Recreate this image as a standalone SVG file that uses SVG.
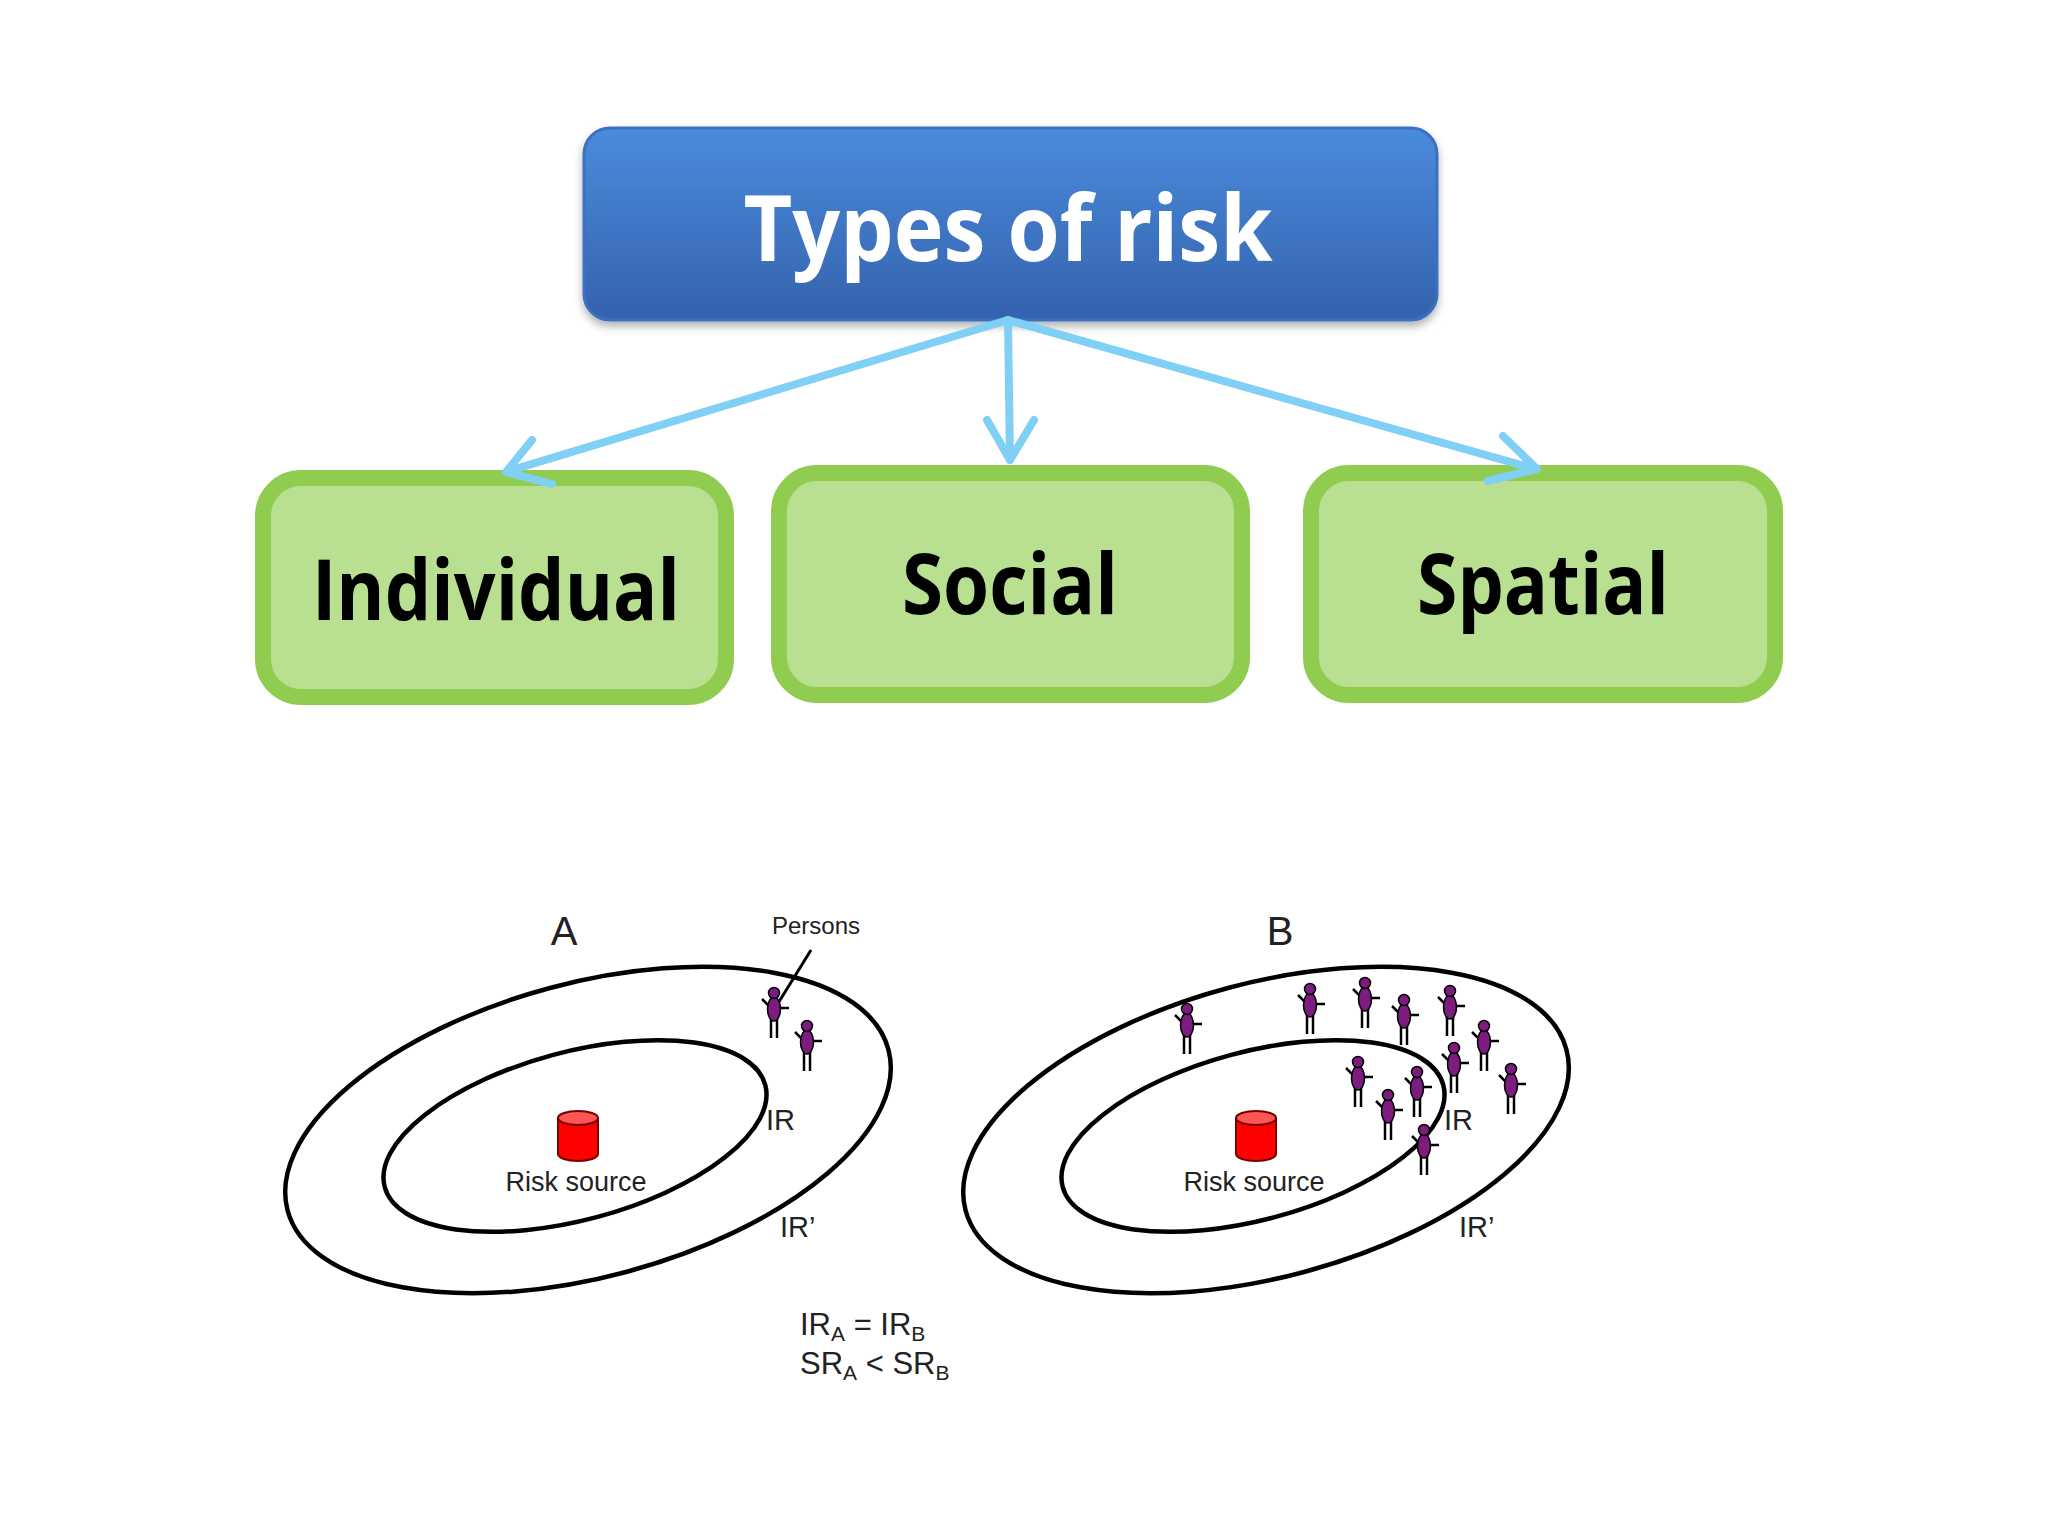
<svg xmlns="http://www.w3.org/2000/svg" width="2048" height="1536" viewBox="0 0 2048 1536">
<defs>
<linearGradient id="blue" x1="0" y1="0" x2="0" y2="1"><stop offset="0" stop-color="#4a8bdc"/><stop offset="1" stop-color="#3462ad"/></linearGradient>
<filter id="sh" x="-10%" y="-10%" width="120%" height="130%"><feDropShadow dx="0" dy="5" stdDeviation="4" flood-color="#000" flood-opacity="0.3"/></filter>
<g id="person">
<line x1="-3" y1="6" x2="-3" y2="26" stroke="#000" stroke-width="2.5"/>
<line x1="3" y1="6" x2="3" y2="26" stroke="#000" stroke-width="2.5"/>
<line x1="-5" y1="-6" x2="-12" y2="-13" stroke="#000" stroke-width="2.5"/>
<line x1="5" y1="-4" x2="15" y2="-4" stroke="#000" stroke-width="2.5"/>
<ellipse cx="0" cy="-3" rx="6.5" ry="12" fill="#7b1c7e" stroke="#000" stroke-width="1.5"/>
<circle cx="0" cy="-19" r="5.5" fill="#7b1c7e" stroke="#000" stroke-width="1.5"/>
</g>
</defs>
<style>
.g{fill:#b8e090;stroke:#8fcc50;stroke-width:16}
.gt{font-family:"Open Sans","Liberation Sans",sans-serif;font-weight:bold;font-size:84px;fill:#000;text-anchor:middle}
.c{stroke:#80d0f6;stroke-width:8;fill:none;stroke-linecap:round;stroke-linejoin:round}
.e{fill:none;stroke:#000;stroke-width:4.5}
.s{font-family:"Liberation Sans",Arial,sans-serif;fill:#222}
</style>
<rect width="2048" height="1536" fill="#fff"/>
<g id="types">
<rect x="584" y="128" width="853" height="192" rx="26" fill="url(#blue)" stroke="#3a70c2" stroke-width="3" filter="url(#sh)"/>
<text x="1008" y="261" font-family="Open Sans, Liberation Sans, sans-serif" font-weight="bold" font-size="92" fill="#fff" text-anchor="middle" textLength="529" lengthAdjust="spacingAndGlyphs">Types of risk</text>
</g>
<g id="individual"><rect class="g" x="263" y="478" width="463" height="219" rx="38"/><text class="gt" x="496" y="620" textLength="368" lengthAdjust="spacingAndGlyphs">Individual</text></g>
<g id="social"><rect class="g" x="779" y="473" width="463" height="222" rx="38"/><text class="gt" x="1010" y="614" textLength="216" lengthAdjust="spacingAndGlyphs">Social</text></g>
<g id="spatial"><rect class="g" x="1311" y="473" width="464" height="222" rx="38"/><text class="gt" x="1543" y="614" textLength="252" lengthAdjust="spacingAndGlyphs">Spatial</text></g>
<g id="connectors">
<path class="c" d="M1008 320 L509 471 M532 440 L506 472 L552 484"/>
<path class="c" d="M1008 320 L1010 460 M987 420 L1010 460 L1034 420"/>
<path class="c" d="M1008 320 L1535 469 M1503 436 L1537 469 L1488 481"/>
</g>
<g id="figA">
<ellipse class="e" cx="588" cy="1130" rx="311" ry="147" transform="rotate(-15 588 1130)"/>
<ellipse class="e" cx="575" cy="1136" rx="197" ry="84" transform="rotate(-15 575 1136)"/>
<path d="M558 1118 v36 a20 7 0 0 0 40 0 v-36 z" fill="#f00" stroke="#700" stroke-width="2"/>
<ellipse cx="578" cy="1118" rx="20" ry="7" fill="#f55" stroke="#700" stroke-width="2"/>
<text class="s" x="576" y="1191" font-size="27" text-anchor="middle">Risk source</text>
<text class="s" x="564" y="945" font-size="40" text-anchor="middle">A</text>
<text class="s" x="816" y="934" font-size="24" text-anchor="middle">Persons</text>
<line x1="811" y1="950" x2="777" y2="1005" stroke="#000" stroke-width="3"/>
<text class="s" x="766" y="1130" font-size="29">IR</text>
<text class="s" x="780" y="1237" font-size="29">IR’</text>
<use href="#person" x="774" y="1012"/><use href="#person" x="807" y="1045"/>
</g>
<g id="figB">
<ellipse class="e" cx="1266" cy="1130" rx="311" ry="147" transform="rotate(-15 1266 1130)"/>
<ellipse class="e" cx="1253" cy="1136" rx="197" ry="84" transform="rotate(-15 1253 1136)"/>
<path d="M1236 1118 v36 a20 7 0 0 0 40 0 v-36 z" fill="#f00" stroke="#700" stroke-width="2"/>
<ellipse cx="1256" cy="1118" rx="20" ry="7" fill="#f55" stroke="#700" stroke-width="2"/>
<text class="s" x="1254" y="1191" font-size="27" text-anchor="middle">Risk source</text>
<text class="s" x="1280" y="945" font-size="40" text-anchor="middle">B</text>
<text class="s" x="1444" y="1130" font-size="29">IR</text>
<text class="s" x="1459" y="1237" font-size="29">IR’</text>
<use href="#person" x="1187" y="1028"/><use href="#person" x="1310" y="1008"/><use href="#person" x="1365" y="1002"/><use href="#person" x="1404" y="1019"/><use href="#person" x="1450" y="1010"/><use href="#person" x="1484" y="1045"/><use href="#person" x="1454" y="1067"/><use href="#person" x="1511" y="1088"/><use href="#person" x="1358" y="1081"/><use href="#person" x="1417" y="1091"/><use href="#person" x="1388" y="1114"/><use href="#person" x="1424" y="1149"/>
</g>
<g id="formula" class="s" font-size="31">
<text x="800" y="1335">IR<tspan font-size="21" dy="6">A</tspan><tspan dy="-6"> = IR</tspan><tspan font-size="21" dy="6">B</tspan></text>
<text x="800" y="1374">SR<tspan font-size="21" dy="6">A</tspan><tspan dy="-6"> &lt; SR</tspan><tspan font-size="21" dy="6">B</tspan></text>
</g>
</svg>
